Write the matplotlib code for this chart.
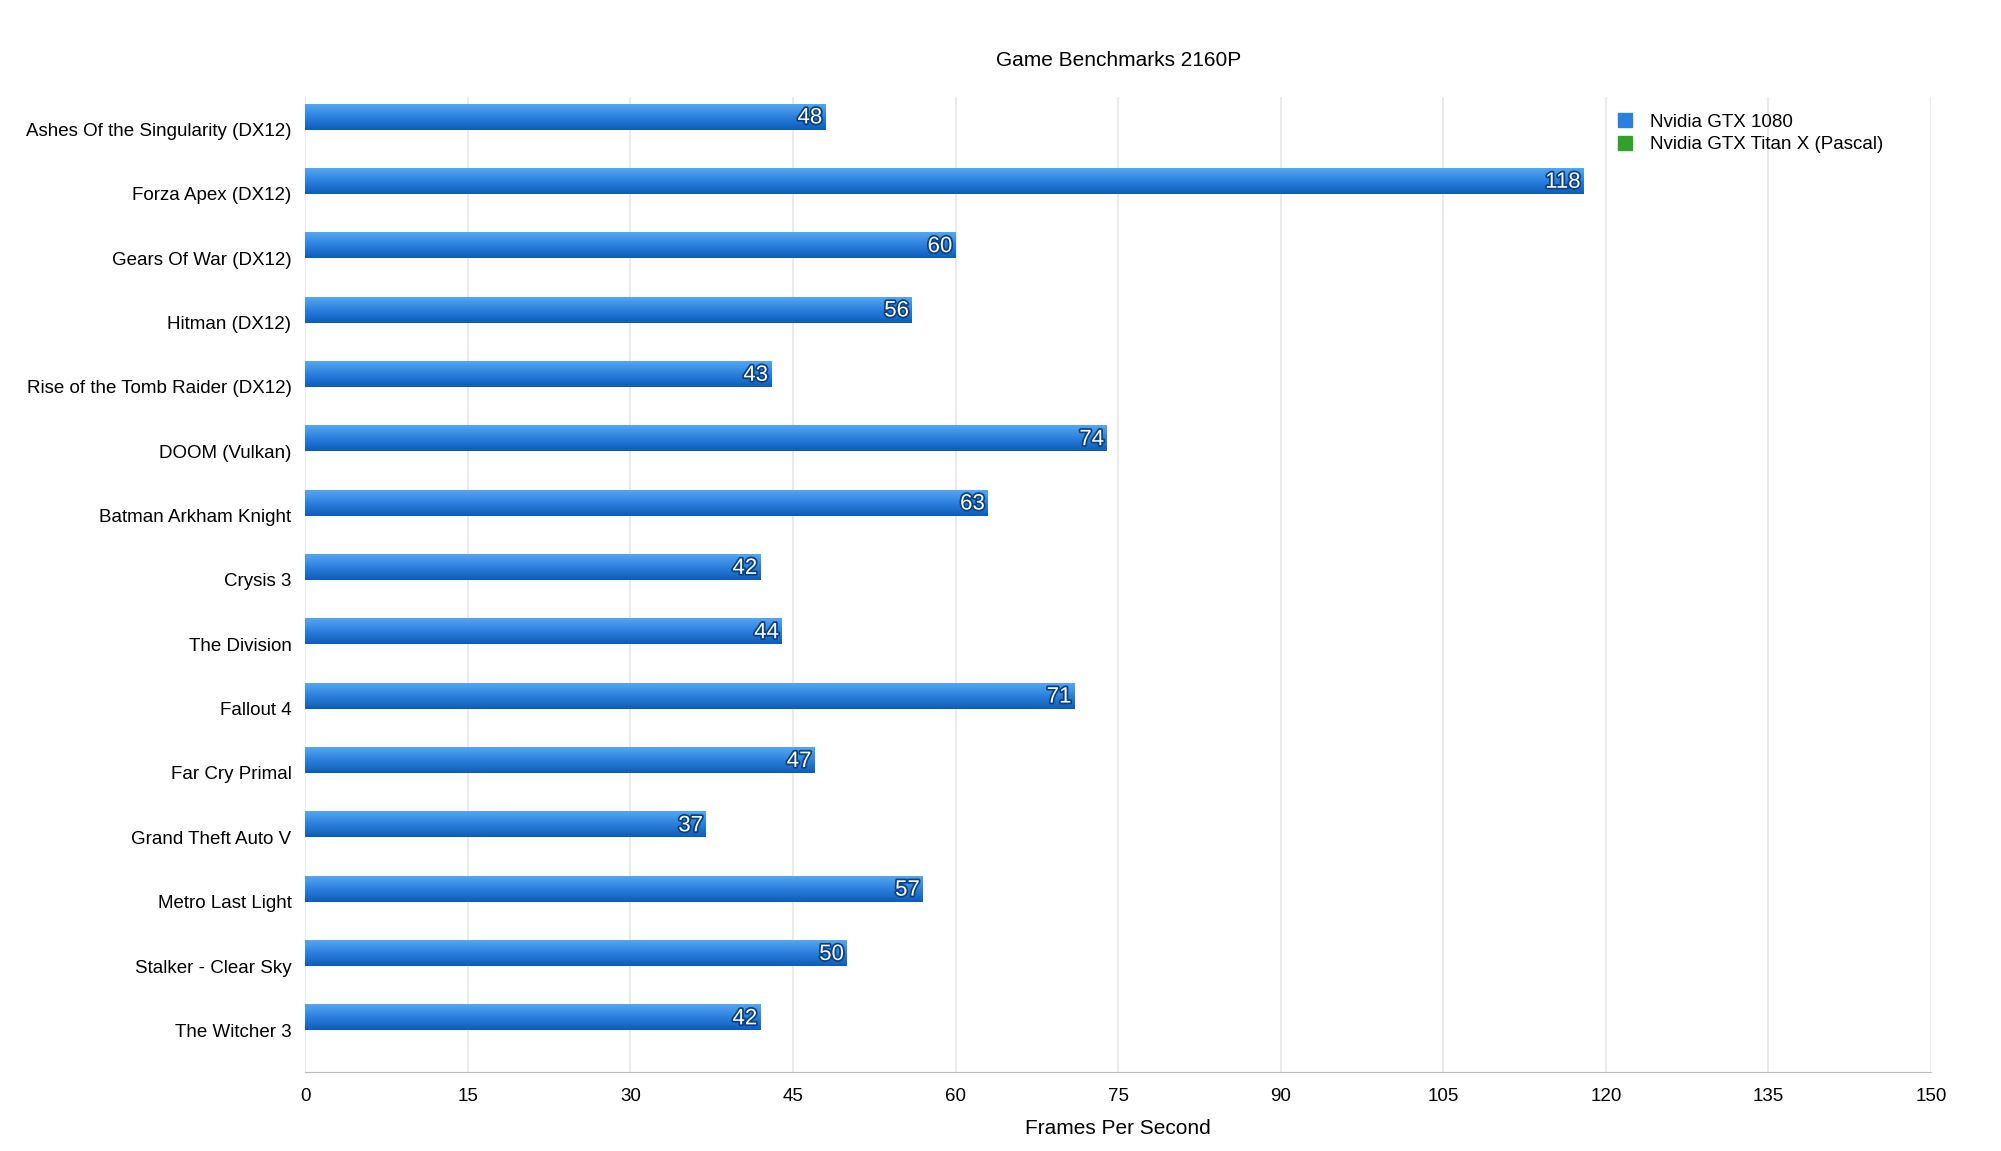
import matplotlib
matplotlib.use("Agg")
import matplotlib.pyplot as plt
import matplotlib.patheffects as pe
import numpy as np
from matplotlib.colors import LinearSegmentedColormap
from matplotlib.lines import Line2D

games = ["Ashes Of the Singularity (DX12)", "Forza Apex (DX12)", "Gears Of War (DX12)",
         "Hitman (DX12)", "Rise of the Tomb Raider (DX12)", "DOOM (Vulkan)",
         "Batman Arkham Knight", "Crysis 3", "The Division", "Fallout 4",
         "Far Cry Primal", "Grand Theft Auto V", "Metro Last Light",
         "Stalker - Clear Sky", "The Witcher 3"]
gtx1080 = [48, 118, 60, 56, 43, 74, 63, 42, 44, 71, 47, 37, 57, 50, 42]
xticks = [0, 15, 30, 45, 60, 75, 90, 105, 120, 135, 150]

plt.rcParams['font.family'] = ['Liberation Sans', 'DejaVu Sans']
font = ['Liberation Sans', 'DejaVu Sans']
fig = plt.figure(figsize=(20.01, 11.51), dpi=100)
ax = fig.add_axes([0.1526, 0.069, 0.8124, 0.847])

cmap = LinearSegmentedColormap.from_list("g", ["#55a6f2", "#2b80dc", "#0d5db8"])
grad = np.linspace(0, 1, 64).reshape(-1, 1)
n = len(games)
ypos = np.arange(n)
h = 0.4
off = -0.2
for y, v in zip(ypos, gtx1080):
    yc = y + off
    ax.barh(yc, v, height=h, color="#2b80dc", zorder=2)
    ax.imshow(grad, cmap=cmap, aspect="auto", extent=(0, v, yc + h/2, yc - h/2),
              zorder=3, interpolation="bilinear")
    ax.text(v - 0.3, yc + 0.02, str(v), ha="right", va="center", color="white",
            fontsize=16, family=font, zorder=4,
            path_effects=[pe.withStroke(linewidth=2.5, foreground="#0a3f80")])

ax.set_xlim(0, 150)
ax.set_ylim(n - 0.36, -0.51)
ax.set_yticks(ypos)
ax.set_yticklabels(games, fontsize=13.5, family=font)
ax.set_xticks(xticks)
ax.set_xticklabels([str(t) for t in xticks], fontsize=13.5, family=font)
ax.tick_params(length=0, pad=10)
ax.tick_params(axis="x", pad=12)
ax.grid(axis="x", color="#e6e6e6", linewidth=1.2, zorder=0)
ax.set_axisbelow(True)
for s in ["top", "right", "left"]:
    ax.spines[s].set_visible(False)
ax.spines["bottom"].set_color("#bbbbbb")
ax.set_xlabel("Frames Per Second", fontsize=15, family=font, labelpad=10)
ax.set_title("Game Benchmarks 2160P", fontsize=15, family=font, pad=22)

handles = [Line2D([], [], marker="s", linestyle="", color="#2b80dc", markersize=10),
           Line2D([], [], marker="s", linestyle="", color="#33a02c", markersize=10)]
ax.legend(handles, ["Nvidia GTX 1080", "Nvidia GTX Titan X (Pascal)"],
          loc="upper left", bbox_to_anchor=(0.79, 1.0), frameon=False,
          handletextpad=0.3, labelspacing=0.3, prop={'family': font, 'size': 13.5})
fig.savefig("out.png", dpi=100)
